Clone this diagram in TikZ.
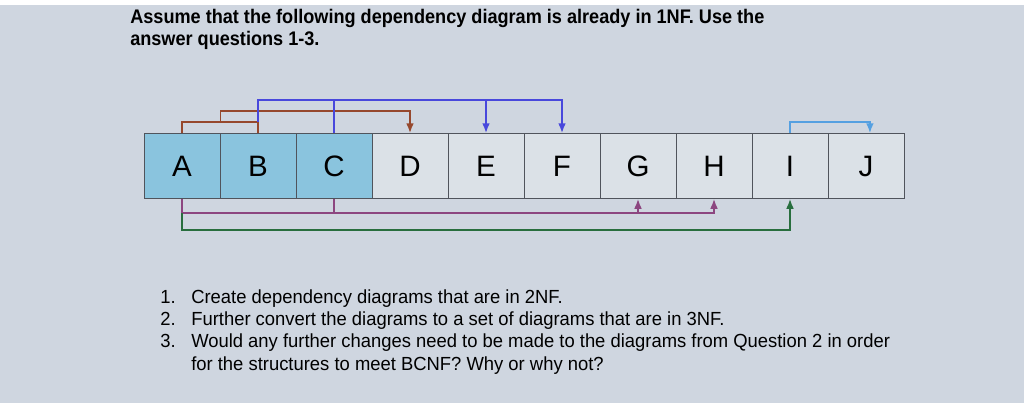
\documentclass[tikz,border=0pt]{standalone}
\usepackage{fontspec}
\setmainfont{Liberation Sans}
\newfontfamily\headfont[FakeStretch=0.92]{Liberation Sans}
\newfontfamily\listfont[FakeStretch=0.97]{Liberation Sans}
\usetikzlibrary{arrows.meta}
\definecolor{paper}{RGB}{207,214,224}
\definecolor{keyfill}{RGB}{138,196,222}
\definecolor{cellfill}{RGB}{219,225,231}
\definecolor{cellline}{RGB}{80,84,92}
\definecolor{brownfd}{RGB}{150,72,45}
\definecolor{bluefd}{RGB}{72,72,220}
\definecolor{cyanfd}{RGB}{85,160,225}
\definecolor{purplefd}{RGB}{140,70,128}
\definecolor{greenfd}{RGB}{40,110,62}
\tikzset{
  cell/.style={draw=cellline, line width=0.6pt, fill=cellfill, minimum width=54.06pt, minimum height=46.2pt, inner sep=0, font=\fontsize{21}{21}\selectfont},
  keycell/.style={cell, fill=keyfill},
  fd/.style={line width=1.1pt},
  head/.style={anchor=base west, inner sep=0, font=\headfont\bfseries\fontsize{14}{16}\selectfont},
  ques/.style={anchor=base west, inner sep=0, font=\listfont\fontsize{13.5}{15}\selectfont}
}

\begin{document}
\begin{tikzpicture}[>={Latex[length=7pt,width=5.5pt]}, x=0.025cm, y=-0.025cm]
	%\draw [help lines] (0,0) grid (1024,403);
	%Sfondo
	\fill[paper] (0,0) rectangle (1024,403);
	\fill[white] (0,0) rectangle (1024,5);
	\useasboundingbox (0,0) rectangle (1024,403);
	%Testo
	\node [head] (t1) at (130,23) {Assume that the following dependency diagram is already in 1NF. Use the};
	\node [head] (t2) at (130,45) {answer questions 1-3.};
	%Attributi
	\node [keycell] (A) at (182,166) {A};
	\node [keycell] (B) at (258,166) {B};
	\node [keycell] (C) at (334,166) {C};
	\node [cell] (D) at (410,166) {D};
	\node [cell] (E) at (486,166) {E};
	\node [cell] (F) at (562,166) {F};
	\node [cell] (G) at (638,166) {G};
	\node [cell] (H) at (714,166) {H};
	\node [cell] (I) at (790,166) {I};
	\node [cell] (J) at (866,166) {J};
	%Livelli
	\coordinate (up1) at (0,100);
	\coordinate (up2) at (0,111);
	\coordinate (up3) at (0,122);
	\coordinate (dn1) at (0,213);
	\coordinate (dn2) at (0,230);
	%Dipendenze sopra
	\draw [fd, brownfd] (A.north) -- (A.north |- up3) -- (B.north |- up3) -- (B.north);
	\draw [fd, brownfd, ->] (A.north east |- up3) -- (A.north east |- up2) -| (D.north);
	\draw [fd, bluefd, ->] (B.north |- up3) |- (F.north |- up1) -- (F.north);
	\draw [fd, bluefd] (C.north) -- (C.north |- up1);
	\draw [fd, bluefd, ->] (E.north |- up1) -- (E.north);
	\draw [fd, cyanfd, ->] (I.north) |- ([xshift=2.8pt]J.north |- up3) -- ([xshift=2.8pt]J.north);
	%Dipendenze sotto
	\draw [fd, purplefd, ->] (A.south) |- (H.south |- dn1) -- (H.south);
	\draw [fd, purplefd] (C.south) -- (C.south |- dn1);
	\draw [fd, purplefd, ->] (G.south |- dn1) -- (G.south);
	\draw [fd, greenfd, ->] (A.south |- dn1) |- (I.south |- dn2) -- (I.south);
	%Domande
	\node [ques] (n1) at (160,303) {1.};
	\node [ques] (q1) at (191,303) {Create dependency diagrams that are in 2NF.};
	\node [ques] (n2) at (160,325) {2.};
	\node [ques] (q2) at (191,325) {Further convert the diagrams to a set of diagrams that are in 3NF.};
	\node [ques] (n3) at (160,347) {3.};
	\node [ques] (q3) at (191,347) {Would any further changes need to be made to the diagrams from Question 2 in order};
	\node [ques] (q4) at (191,370) {for the structures to meet BCNF? Why or why not?};
\end{tikzpicture}
\end{document}
